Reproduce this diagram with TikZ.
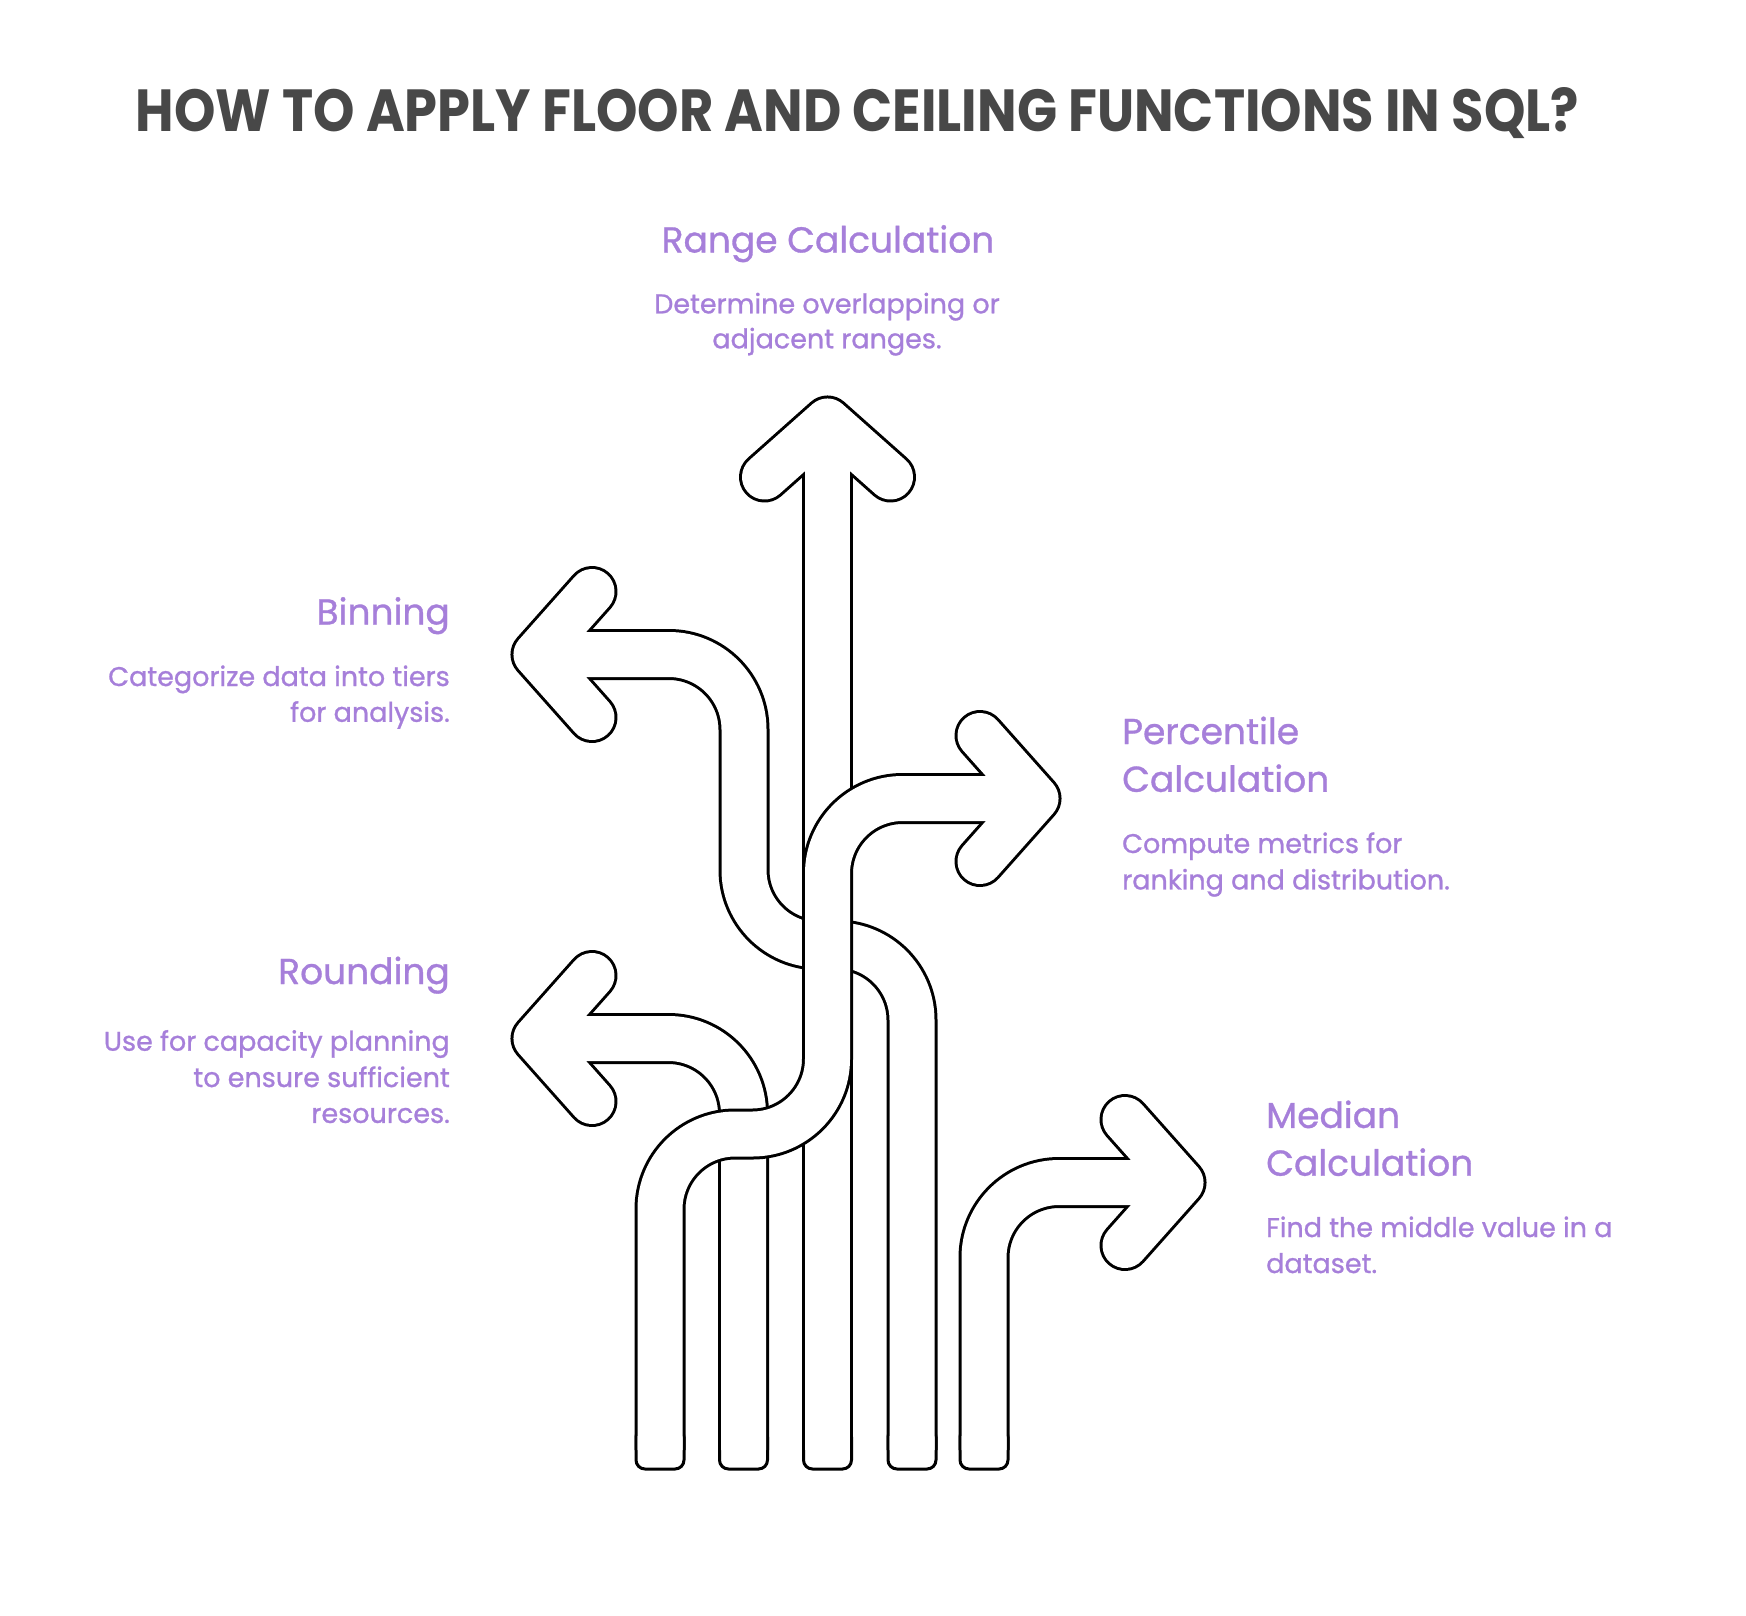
\documentclass[tikz,border=0pt]{standalone}
\usepackage{fontspec}
\usepackage{graphicx}
\setmainfont{Poppins}
\newfontfamily\titlefont{Poppins}
\newfontfamily\labelfont{Poppins}[FakeBold=0.9]
\usetikzlibrary{positioning}
\definecolor{titlegrey}{HTML}{484848}
\definecolor{lilac}{HTML}{A67FDA}

\tikzset{
  tubeout/.style={draw=black, line width=51pt},
  tubein/.style={draw=white, line width=45pt},
  headjoin/.style={line cap=round, line join=round},
  roundbend/.style={rounded corners=75pt},
  stubend/.style={draw=black, fill=white, line width=3pt, rounded corners=9pt},
  heading/.style={font=\labelfont\fontsize{36}{44}\selectfont, text=lilac, inner sep=0pt},
  blurb/.style={font=\labelfont\fontsize{27}{34}\selectfont, text=lilac, inner sep=0pt}
}

% shaft path, chevron path, x of the foot
\newcommand{\flowarrow}[3]{%
  \draw[tubeout, roundbend] #1;
  \draw[tubeout, headjoin] #2;
  \draw[stubend] (#3-24,1428) rectangle (#3+24,1469);
  \draw[tubein, roundbend] #1;
  \draw[tubein, headjoin] #2;
}

\begin{document}
\begin{tikzpicture}[x=1pt, y=-1pt]
\useasboundingbox[fill=white] (0,0) rectangle (1746,1615);

\node[anchor=base, inner sep=0pt, text=titlegrey] (title) at (857.5,131)
  {\resizebox{1443pt}{44pt}{\titlefont\bfseries HOW TO APPLY FLOOR AND CEILING FUNCTIONS IN SQL?}};

% arrows, back to front
\flowarrow{(912,1450) -- (912,945) -- (744,945) -- (744,654.5) -- (545,654.5)}
  {(592,591.5) -- (536,654.5) -- (592,717.5)}{912}
\flowarrow{(743.5,1450) -- (743.5,1038.5) -- (545,1038.5)}
  {(592,975.5) -- (536,1038.5) -- (592,1101.5)}{743.5}
\flowarrow{(827.5,1450) -- (827.5,430)}
  {(764.5,477) -- (827.5,421) -- (890.5,477)}{827.5}
\flowarrow{(660,1450) -- (660,1134) -- (827.5,1134) -- (827.5,798.5) -- (1027,798.5)}
  {(980,735.5) -- (1036,798.5) -- (980,861.5)}{660}
\flowarrow{(984,1450) -- (984,1182.5) -- (1172,1182.5)}
  {(1125,1119.5) -- (1181,1182.5) -- (1125,1245.5)}{984}

% labels
\node[heading, anchor=base] (rangehead) at (828,252.5) {Range Calculation};
\foreach \txt/\yy [count=\i] in {Determine overlapping or/313.3, adjacent ranges./348.3}
  \node[blurb, anchor=base] (range\i) at (827,\yy) {\txt};

\node[heading, anchor=base east] (binhead) at (450,624.5) {Binning};
\foreach \txt/\yy [count=\i] in {Categorize data into tiers/686, for analysis./721.8}
  \node[blurb, anchor=base east] (bin\i) at (450,\yy) {\txt};

\node[heading, anchor=base east] (roundhead) at (450,984) {Rounding};
\foreach \txt/\yy [count=\i] in {Use for capacity planning/1050.7, to ensure sufficient/1087, resources./1122.9}
  \node[blurb, anchor=base east] (round\i) at (450,\yy) {\txt};

\foreach \txt/\yy [count=\i] in {Percentile/744, Calculation/791.8}
  \node[heading, anchor=base west] (pcthead\i) at (1122,\yy) {\txt};
\foreach \txt/\yy [count=\i] in {Compute metrics for/853, ranking and distribution./889.4}
  \node[blurb, anchor=base west] (pct\i) at (1122,\yy) {\txt};

\foreach \txt/\yy [count=\i] in {Median/1127.9, Calculation/1175.7}
  \node[heading, anchor=base west] (medhead\i) at (1266,\yy) {\txt};
\foreach \txt/\yy [count=\i] in {Find the middle value in a/1237, dataset./1273}
  \node[blurb, anchor=base west] (med\i) at (1266,\yy) {\txt};
\end{tikzpicture}
\end{document}
